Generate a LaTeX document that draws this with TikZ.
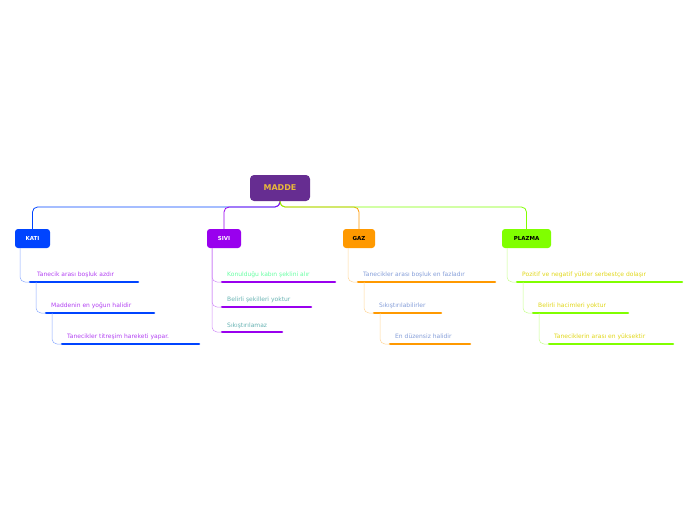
\documentclass[tikz,border=0pt]{standalone}
\usepackage{fontspec}
\setmainfont{DejaVu Sans}
\begin{document}
\begin{tikzpicture}[x=1pt,y=-1pt,
  topic/.style={rounded corners=3pt,inner sep=0pt,minimum height=19pt,font=\fontsize{5.5}{6}\selectfont\bfseries},
  sub/.style={anchor=base west,inner sep=0pt,font=\fontsize{6}{7}\selectfont},
  uline/.style={line width=2.6pt,line cap=round},
  br/.style={line width=0.5pt,rounded corners=5pt}]
\useasboundingbox (0,0) rectangle (696,520);
\definecolor{cpur}{HTML}{662D91}\definecolor{cgold}{HTML}{E8B83A}
\definecolor{cblue}{HTML}{0044FF}\definecolor{cviol}{HTML}{9900EE}
\definecolor{corg}{HTML}{FF9900}\definecolor{cgrn}{HTML}{80FF00}
\node[fill=cpur,rounded corners=4pt,minimum width=60pt,minimum height=26pt,text=cgold,font=\fontsize{8}{9}\selectfont\bfseries] (root) at (280,188) {MADDE};
\node[topic,fill=cblue,text=white,minimum width=35pt] (kati) at (32.5,238.5) {KATI};
\node[topic,fill=cviol,text=white,minimum width=34pt] (sivi) at (224,238.5) {SIVI};
\node[topic,fill=corg,text=black,minimum width=32pt] (gaz) at (359,238.5) {GAZ};
\node[topic,fill=cgrn,text=black,minimum width=49pt] (plazma) at (526.5,238.5) {PLAZMA};
\draw[cblue,br,line width=0.8pt] (root.south) -- (280,207) -| (kati.north);
\draw[cviol,br,line width=0.8pt] (root.south) -- (280,207) -| (sivi.north);
\draw[corg,br,line width=0.8pt] (root.south) -- (280,207) -| (gaz.north);
\draw[cgrn,br,line width=0.8pt] (root.south) -- (280,207) -| (plazma.north);
% KATI
\node[sub,text=cviol!75] (k1) at (37,276) {Tanecik arası boşluk azdır};
\node[sub,text=cviol!75] (k2) at (51,307) {Maddenin en yoğun halidir};
\node[sub,text=cviol!75] (k3) at (67,338) {Tanecikler titreşim hareketi yapar.};
\coordinate (k1a) at (30,282); \coordinate (k1b) at (138,282);
\coordinate (k2a) at (46,313); \coordinate (k2b) at (154,313);
\coordinate (k3a) at (62,344); \coordinate (k3b) at (199,344);
\draw[uline,cblue] (k1a)--(k1b); \draw[uline,cblue] (k2a)--(k2b); \draw[uline,cblue] (k3a)--(k3b);
\draw[br,cblue!45] (20,248) |- (k1a);
\draw[br,cblue!45] (36,282) |- (k2a);
\draw[br,cblue!45] (52,313) |- (k3a);
% SIVI
\node[sub,text=green!60!cyan!60] (s1) at (227,276) {Konulduğu kabın şeklini alır};
\node[sub,text=teal!60] (s2) at (227,301) {Belirli şekilleri yoktur};
\node[sub,text=teal!60] (s3) at (227,327) {Sıkıştırılamaz};
\coordinate (s1a) at (222,282); \coordinate (s1b) at (335,282);
\coordinate (s2a) at (222,307); \coordinate (s2b) at (311,307);
\coordinate (s3a) at (222,332); \coordinate (s3b) at (282,332);
\draw[uline,cviol] (s1a)--(s1b); \draw[uline,cviol] (s2a)--(s2b); \draw[uline,cviol] (s3a)--(s3b);
\draw[br,cviol!45] (212,248) |- (s1a);
\draw[br,cviol!45] (212,248) |- (s2a);
\draw[br,cviol!45] (212,248) |- (s3a);
% GAZ
\node[sub,text=cyan!40!blue!50] (g1) at (363,276) {Tanecikler arası boşluk en fazladır};
\node[sub,text=cyan!40!blue!50] (g2) at (379,307) {Sıkıştırılabilirler};
\node[sub,text=cyan!40!blue!50] (g3) at (395,338) {En düzensiz halidir};
\coordinate (g1a) at (358,282); \coordinate (g1b) at (495,282);
\coordinate (g2a) at (374,313); \coordinate (g2b) at (441,313);
\coordinate (g3a) at (390,344); \coordinate (g3b) at (470,344);
\draw[uline,corg] (g1a)--(g1b); \draw[uline,corg] (g2a)--(g2b); \draw[uline,corg] (g3a)--(g3b);
\draw[br,corg!40] (348,248) |- (g1a);
\draw[br,corg!40] (364,282) |- (g2a);
\draw[br,corg!40] (380,313) |- (g3a);
% PLAZMA
\node[sub,text=yellow!70!olive!90] (p1) at (522,276) {Pozitif ve negatif yükler serbestçe dolaşır};
\node[sub,text=yellow!70!olive!90] (p2) at (538,307) {Belirli hacimleri yoktur};
\node[sub,text=yellow!70!olive!90] (p3) at (554,338) {Taneciklerin arası en yüksektir};
\coordinate (p1a) at (517,282); \coordinate (p1b) at (682,282);
\coordinate (p2a) at (533,313); \coordinate (p2b) at (628,313);
\coordinate (p3a) at (549,344); \coordinate (p3b) at (673,344);
\draw[uline,cgrn] (p1a)--(p1b); \draw[uline,cgrn] (p2a)--(p2b); \draw[uline,cgrn] (p3a)--(p3b);
\draw[br,cgrn!45] (507,248) |- (p1a);
\draw[br,cgrn!45] (523,282) |- (p2a);
\draw[br,cgrn!45] (539,313) |- (p3a);
\end{tikzpicture}
\end{document}
